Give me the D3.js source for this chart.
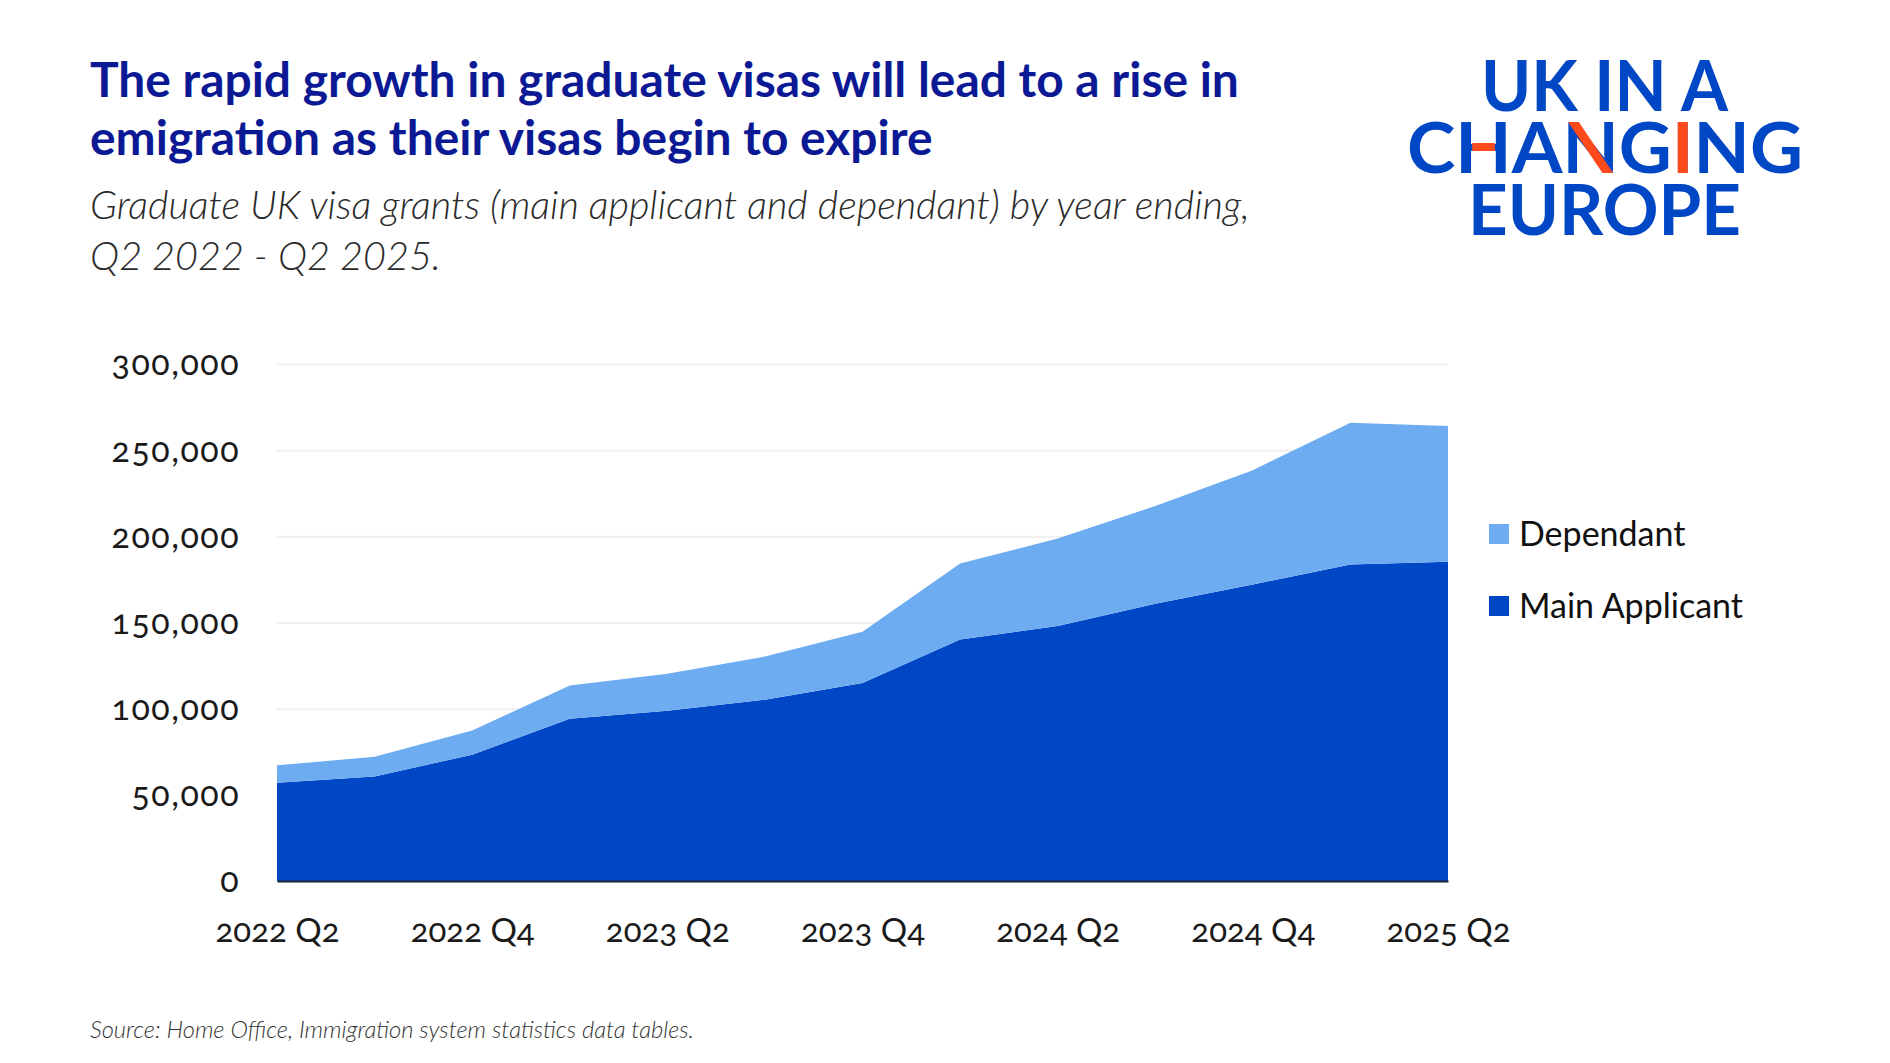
<!DOCTYPE html>
<html>
<head>
<meta charset="utf-8">
<script src="https://cdn.jsdelivr.net/npm/d3@7"></script>
<style>
  body { margin: 0; background: #fff; }
  svg text { font-family: Lato, "Open Sans", sans-serif; }
  .num { font-variant-numeric: oldstyle-nums; font-feature-settings: "onum" 1; }
</style>
</head>
<body>
<svg id="chart" width="1890" height="1063"></svg>
<script>
// quarters (year ending)
const quarters = ["2022 Q2", "2022 Q3", "2022 Q4", "2023 Q1", "2023 Q2", "2023 Q3", "2023 Q4",
                  "2024 Q1", "2024 Q2", "2024 Q3", "2024 Q4", "2025 Q1", "2025 Q2"];
// main applicant grants
const mainApplicant = [57000, 60700, 73300, 94200, 98800, 105200, 114900,
                       140100, 147900, 160900, 172100, 183700, 185300];
// dependant grants
const dependant = [10100, 11400, 14100, 19200, 21500, 25000, 29700,
                   44200, 50800, 56700, 66300, 82200, 78700];
const yTicks = [0, 50000, 100000, 150000, 200000, 250000, 300000];
const xTickLabels = ["2022 Q2", "2022 Q4", "2023 Q2", "2023 Q4", "2024 Q2", "2024 Q4", "2025 Q2"];

const colors = { main: "#0047c6", dependant: "#6eacf2" };

const svg = d3.select("#chart");

// shrink/grow a text so it spans a given width
function fitWidth(sel, target) {
    const size = parseFloat(sel.attr("font-size"));
    const w = sel.node().getComputedTextLength();
    sel.attr("font-size", (size * target / w).toFixed(2));
}

// title
const title = svg.append("g").attr("fill", "#0b1a94").attr("font-weight", 700);
fitWidth(title.append("text").attr("x", 90).attr("y", 97).attr("font-size", 44)
    .text("The rapid growth in graduate visas will lead to a rise in"), 1149);
title.append("text").attr("x", 90).attr("y", 155)
    .attr("font-size", title.select("text").attr("font-size"))
    .text("emigration as their visas begin to expire");

// subtitle
const sub = svg.append("g").attr("fill", "#2a2a2a").attr("font-style", "italic").attr("font-weight", 300);
const sub1 = sub.append("text").attr("x", 90).attr("y", 219).attr("font-size", 36)
    .text("Graduate UK visa grants (main applicant and dependant) by year ending,");
fitWidth(sub1, 1160);
sub.append("text").attr("x", 90).attr("y", 270).attr("font-size", sub1.attr("font-size"))
    .text("Q2 2022 - Q2 2025.");

// chart
const margin = { left: 277, right: 1448, top: 364, bottom: 881 };

const x = d3.scalePoint()
    .domain(quarters)
    .range([margin.left, margin.right]);

const y = d3.scaleLinear()
    .domain([0, 300000])
    .range([margin.bottom, margin.top]);

// y axis with gridlines
svg.append("g")
    .attr("transform", `translate(${margin.left},0)`)
    .call(d3.axisLeft(y).tickValues(yTicks).tickFormat(d3.format(","))
        .tickSize(-(margin.right - margin.left)).tickPadding(37))
    .call(g => g.select(".domain").remove())
    .call(g => g.selectAll("line").attr("stroke", "#efefef").attr("stroke-width", 2))
    .call(g => g.selectAll("text").attr("class", "num").attr("font-family", "'Open Sans', Lato")
        .attr("font-weight", 400).attr("font-size", 34).attr("letter-spacing", 1.5)
        .attr("fill", "#1a1a1a"));

// stacked areas
const rows = quarters.map((q, i) => ({ q, main: mainApplicant[i], dependant: dependant[i] }));
const series = d3.stack().keys(["main", "dependant"])(rows);

const area = d3.area()
    .x(d => x(d.data.q))
    .y0(d => y(d[0]))
    .y1(d => y(d[1]));

svg.append("g").selectAll("path")
    .data(series)
    .join("path")
    .attr("fill", d => colors[d.key])
    .attr("d", area);

// x axis
svg.append("g")
    .attr("transform", `translate(0,${margin.bottom})`)
    .call(d3.axisBottom(x).tickValues(xTickLabels).tickSize(0).tickSizeOuter(0).tickPadding(38))
    .call(g => g.select(".domain").attr("stroke", "#1c2233").attr("stroke-width", 2))
    .call(g => g.selectAll("text").attr("class", "num").attr("font-family", "'Open Sans', Lato")
        .attr("font-weight", 400).attr("font-size", 33).attr("fill", "#1a1a1a"));

// legend
const legendItems = [
    { key: "dependant", label: "Dependant", y: 534 },
    { key: "main", label: "Main Applicant", y: 606 }
];
const legend = svg.append("g");
legendItems.forEach(it => {
    legend.append("rect").attr("x", 1489).attr("y", it.y - 10).attr("width", 20).attr("height", 20)
        .attr("fill", colors[it.key]);
    legend.append("text").attr("x", 1519).attr("y", it.y).attr("dy", "0.35em")
        .attr("font-size", 34).attr("fill", "#111").text(it.label);
});

// source
fitWidth(svg.append("text").attr("x", 90).attr("y", 1038).attr("font-size", 22)
    .attr("font-style", "italic").attr("font-weight", 300).attr("fill", "#333")
    .text("Source: Home Office, Immigration system statistics data tables."), 604);

// logo
const logoBlue = "#0047c6", logoOrange = "#ff4a1c";
const logo = svg.append("g").attr("font-weight", 700).attr("font-size", 71).attr("fill", logoBlue);
const logoLines = [
    { t: "UK IN A", x: 1481, y: 111, w: 247 },
    { t: "CHANGING", x: 1407, y: 173, w: 396 },
    { t: "EUROPE", x: 1468, y: 235, w: 273 }
];
let changing;
logoLines.forEach((l, i) => {
    const t = logo.append("text").attr("x", l.x).attr("y", l.y)
        .attr("textLength", l.w).attr("lengthAdjust", "spacingAndGlyphs").text(l.t);
    if (i === 1) changing = t.node();
});
// orange H crossbar, N diagonal and second I
const hBox = changing.getExtentOfChar(1);
const nBox = changing.getExtentOfChar(3);
const iBox = changing.getExtentOfChar(5);
const capTop = 122, base = 173;
const orange = svg.append("g").attr("fill", logoOrange);
orange.append("rect")
    .attr("x", hBox.x + hBox.width * 0.3).attr("width", hBox.width * 0.4)
    .attr("y", 143).attr("height", 8);
const sb = nBox.width * 0.1, st = nBox.width * 0.19;
orange.append("polygon").attr("points", [
    [nBox.x + sb, capTop], [nBox.x + sb + st, capTop],
    [nBox.x + nBox.width - sb, base], [nBox.x + nBox.width - sb - st, base]
].map(p => p.join(",")).join(" "));
orange.append("rect")
    .attr("x", iBox.x + iBox.width / 2 - 5).attr("width", 10)
    .attr("y", capTop).attr("height", base - capTop);
</script>
</body>
</html>
